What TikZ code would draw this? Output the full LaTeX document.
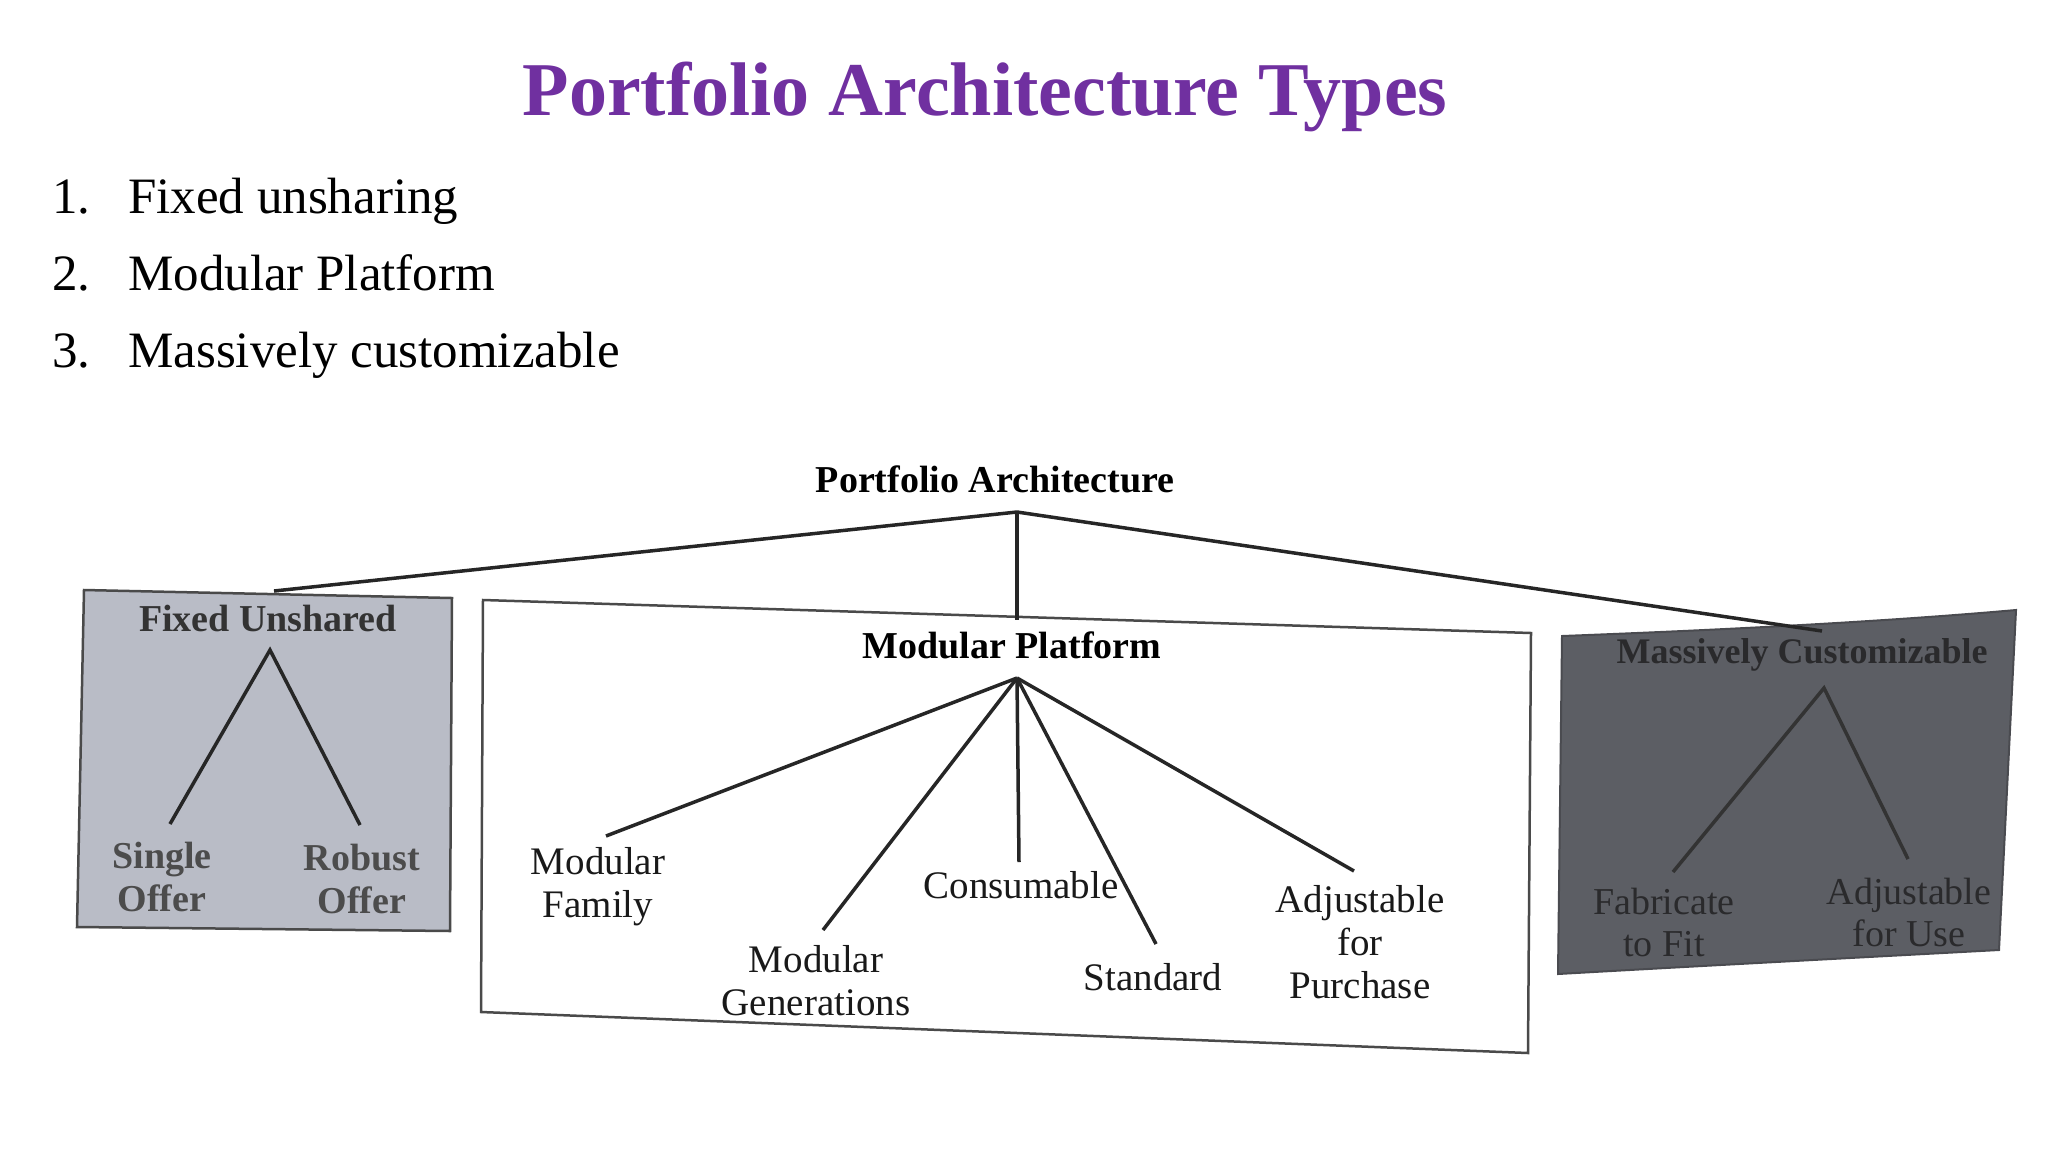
\documentclass[tikz,border=0pt]{standalone}
\usepackage{fontspec}
\setmainfont{Liberation Serif}
\definecolor{titlepurple}{HTML}{7030A0}
\definecolor{lightbox}{HTML}{B9BCC6}
\definecolor{darkbox}{HTML}{5C5E64}
\definecolor{boxedge}{HTML}{4A4A4A}
\definecolor{darktext}{HTML}{2A2A2C}
\begin{document}
\begin{tikzpicture}[x=1pt,y=-1pt,
  conn/.style={line width=3.5pt,draw=black!85},
  lbl/.style={font=\fontsize{39}{43}\selectfont,align=center,inner sep=0pt,text=black!90},
  blbl/.style={font=\fontsize{38}{40}\selectfont\bfseries,align=center,inner sep=0pt},
  listitem/.style={font=\fontsize{51}{53}\selectfont,anchor=base west,inner sep=0pt}]
\useasboundingbox[fill=white] (0,0) rectangle (2048,1152);
% title and list
\node[font=\fontsize{76}{78}\selectfont\bfseries,text=titlepurple,anchor=base,inner sep=0pt] (title) at (985,115) {Portfolio Architecture Types};
\node[listitem] (n1) at (52,213) {1.};
\node[listitem] (t1) at (128,213) {Fixed unsharing};
\node[listitem] (n2) at (52,290) {2.};
\node[listitem] (t2) at (128,290) {Modular Platform};
\node[listitem] (n3) at (52,367) {3.};
\node[listitem] (t3) at (128,367) {Massively customizable};
% boxes
\path[fill=lightbox,draw=boxedge,line width=2.5pt] (84,590) -- (452,598) -- (450,931) -- (77,927) -- cycle;
\path[fill=white,draw=boxedge,line width=2.5pt] (483,600) -- (1531,633) -- (1528,1053) -- (481,1012) -- cycle;
\path[fill=darkbox,draw=darkbox!80!black,line width=2pt] (1562,636) .. controls (1720,630) and (1880,622) .. (2016,610) -- (1999,950) .. controls (1850,958) and (1700,966) .. (1558,974) -- cycle;
% root
\node[blbl] (root) at (995,479) {Portfolio Architecture};
\coordinate (rj) at (1017,512);
\coordinate (fixtop) at (274,591);
\coordinate (modtop) at (1017,620);
\coordinate (mastop) at (1822,631);
\draw[conn] (rj) -- (fixtop);
\draw[conn] (rj) -- (modtop);
\draw[conn] (rj) -- (mastop);
% fixed unshared
\node[blbl,text=black!80] (fixed) at (268,618) {Fixed Unshared};
\coordinate (fj) at (270,650);
\node[lbl,font=\fontsize{38}{43}\selectfont\bfseries,text=black!70] (single) at (162,877) {Single\\Offer};
\node[lbl,font=\fontsize{38}{43}\selectfont\bfseries,text=black!70] (robust) at (362,879) {Robust\\Offer};
\coordinate (sa) at (170,824);
\coordinate (ra) at (360,825);
\draw[conn] (sa) -- (fj) -- (ra);
% modular platform
\node[blbl] (modular) at (1012,645) {Modular Platform};
\coordinate (mj) at (1017,678);
\node[lbl] (mfam) at (598,887) {Modular\\Family};
\node[lbl] (mgen) at (816,981) {Modular\\Generations};
\node[lbl] (cons) at (1021,885) {Consumable};
\node[lbl] (std) at (1153,977) {Standard};
\node[lbl] (adj) at (1360,942) {Adjustable\\for\\Purchase};
\coordinate (a1) at (606,836);
\coordinate (a2) at (823,930);
\coordinate (a3) at (1019,862);
\coordinate (a4) at (1156,944);
\coordinate (a5) at (1354,871);
\foreach \e in {a1,a2,a3,a4,a5} \draw[conn] (mj) -- (\e);
% massively customizable
\node[blbl,font=\fontsize{36}{38}\selectfont\bfseries,text=darktext] (mass) at (1802,655) {Massively Customizable};
\coordinate (cj) at (1824,688);
\node[lbl,font=\fontsize{38}{42}\selectfont,text=darktext] (fab) at (1664,922) {Fabricate\\to Fit};
\node[lbl,font=\fontsize{38}{42}\selectfont,text=darktext] (adu) at (1909,912) {Adjustable\\for Use};
\coordinate (fa) at (1673,872);
\coordinate (ua) at (1908,859);
\draw[conn,draw=black!80] (fa) -- (cj) -- (ua);
\end{tikzpicture}
\end{document}
